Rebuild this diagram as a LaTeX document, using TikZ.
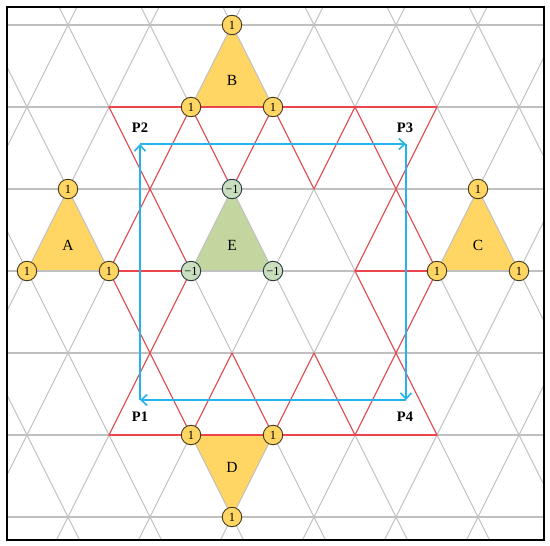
\documentclass[tikz,border=0pt]{standalone}
\usepackage{fontspec}
\setmainfont{Liberation Serif}
\usetikzlibrary{arrows.meta}
\definecolor{gridgray}{RGB}{192,192,192}
\definecolor{redline}{RGB}{236,70,76}
\definecolor{blueline}{RGB}{36,180,234}
\definecolor{yfill}{RGB}{255,214,100}
\definecolor{gfill}{RGB}{196,214,160}
\definecolor{gcirc}{RGB}{200,222,188}
\definecolor{ydark}{RGB}{70,58,30}
\definecolor{gdark}{RGB}{40,58,72}
\begin{document}
\begin{tikzpicture}[x=1pt,y=-1pt,
  gridline/.style={draw=gridgray, line width=1.1pt},
  redseg/.style={draw=redline, line width=1.1pt, line cap=round},
  bluearrow/.style={draw=blueline, line width=1.8pt, -{Straight Barb[length=6pt,width=11pt,line width=1.6pt]}},
  ycircle/.style={circle, draw=ydark, fill=yfill, line width=0.9pt, minimum size=19.5pt, inner sep=0pt, font=\fontsize{12.5}{12.5}\selectfont},
  gcircle/.style={circle, draw=gdark, fill=gcirc, line width=0.9pt, minimum size=19.5pt, inner sep=0pt, font=\fontsize{12.5}{12.5}\selectfont},
  ytri/.style={fill=yfill},
  gtri/.style={fill=gfill},
  tlabel/.style={font=\fontsize{15.5}{15.5}\selectfont, inner sep=0pt},
  plabel/.style={font=\bfseries\fontsize{14.5}{14.5}\selectfont, inner sep=0pt}
]
\useasboundingbox (0,0) rectangle (550,546);
% grid points
\foreach \cc in {0,...,12}{
  \foreach \rr in {0,...,6}{
    \coordinate (c\cc r\rr) at ({27+41*\cc},{25+82*\rr});
  }
}
% filled triangles
\fill[ytri] (c1r2) -- (c0r3) -- (c2r3) -- cycle;
\fill[ytri] (c5r0) -- (c4r1) -- (c6r1) -- cycle;
\fill[ytri] (c11r2) -- (c10r3) -- (c12r3) -- cycle;
\fill[ytri] (c4r5) -- (c6r5) -- (c5r6) -- cycle;
\fill[gtri] (c5r2) -- (c4r3) -- (c6r3) -- cycle;
% grid
\begin{scope}
  \clip (7,7) rectangle (544,540);
  \foreach \rr in {0,...,6}{
    \draw[gridline] (7,{25+82*\rr}) -- (544,{25+82*\rr});
  }
  \foreach \i in {-5,...,5}{
    \draw[gridline] ({137.5+82*\i},0) -- ({410.5+82*\i},546);
    \draw[gridline] ({408.5+82*\i},0) -- ({135.5+82*\i},546);
  }
\end{scope}
% red figure
\draw[redseg] (c2r1) -- (c10r1);
\draw[redseg] (c2r3) -- (c4r3);
\draw[redseg] (c8r3) -- (c10r3);
\draw[redseg] (c2r5) -- (c10r5);
\draw[redseg] (c2r1) -- (c4r3);
\draw[redseg] (c4r1) -- (c2r3);
\draw[redseg] (c4r1) -- (c5r2);
\draw[redseg] (c6r1) -- (c5r2);
\draw[redseg] (c6r1) -- (c7r2);
\draw[redseg] (c8r1) -- (c7r2);
\draw[redseg] (c8r1) -- (c10r3);
\draw[redseg] (c10r1) -- (c8r3);
\draw[redseg] (c2r3) -- (c4r5);
\draw[redseg] (c4r3) -- (c2r5);
\draw[redseg] (c5r4) -- (c4r5);
\draw[redseg] (c5r4) -- (c6r5);
\draw[redseg] (c7r4) -- (c6r5);
\draw[redseg] (c7r4) -- (c8r5);
\draw[redseg] (c8r3) -- (c10r5);
\draw[redseg] (c10r3) -- (c8r5);
% blue square
\coordinate (q1) at (140,400);
\coordinate (q2) at (140,144);
\coordinate (q3) at (406,144);
\coordinate (q4) at (406,400);
\draw[bluearrow] (q1) -- (q2);
\draw[bluearrow] (q2) -- (q3);
\draw[bluearrow] (q3) -- (q4);
\draw[bluearrow] (q4) -- (q1);
\node[plabel] (lp1) at (140,417) {P1};
\node[plabel] (lp2) at (140,128) {P2};
\node[plabel] (lp3) at (405,128) {P3};
\node[plabel] (lp4) at (405,417) {P4};
% triangle labels
\node[tlabel] (la) at (68,245) {A};
\node[tlabel] (lb) at (232,80) {B};
\node[tlabel] (lc) at (478,245) {C};
\node[tlabel] (ld) at (232,467) {D};
\node[tlabel] (le) at (232,245) {E};
% circles
\node[ycircle] (a1) at (c1r2) {1};
\node[ycircle] (a2) at (c0r3) {1};
\node[ycircle] (a3) at (c2r3) {1};
\node[ycircle] (b1) at (c5r0) {1};
\node[ycircle] (b2) at (c4r1) {1};
\node[ycircle] (b3) at (c6r1) {1};
\node[ycircle] (cc1) at (c11r2) {1};
\node[ycircle] (cc2) at (c10r3) {1};
\node[ycircle] (cc3) at (c12r3) {1};
\node[ycircle] (d1) at (c4r5) {1};
\node[ycircle] (d2) at (c6r5) {1};
\node[ycircle] (d3) at (c5r6) {1};
\node[gcircle] (e1) at (c5r2) {−1};
\node[gcircle] (e2) at (c4r3) {−1};
\node[gcircle] (e3) at (c6r3) {−1};
% border
\draw[line width=1.3pt] (7,7) rectangle (544,540);
\end{tikzpicture}
\end{document}
